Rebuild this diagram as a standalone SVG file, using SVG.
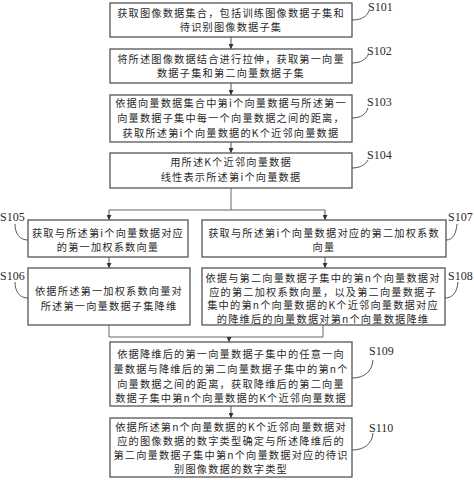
<svg xmlns="http://www.w3.org/2000/svg" width="474" height="480" viewBox="0 0 474 480">
<defs>
<marker id="ah" viewBox="0 0 6 6" refX="6" refY="3" markerWidth="5" markerHeight="5" orient="auto" markerUnits="userSpaceOnUse">
<path d="M0,0 L6,3 L0,6 z" fill="#333"/>
</marker>
<style>
.box{fill:#fff;stroke:#555;stroke-width:1.3}
.t{font-family:"Noto Sans CJK SC","Noto Sans CJK JP",sans-serif;font-size:10.2px;letter-spacing:1.2px;fill:#2a2a2a;text-anchor:middle}
.lb{font-family:"Liberation Serif",serif;font-size:12px;fill:#2a2a2a}
.c{fill:none;stroke:#555;stroke-width:1}
.ln{fill:none;stroke:#666;stroke-width:1}
.ar{fill:none;stroke:#555;stroke-width:1;marker-end:url(#ah)}
</style>
</defs>
<rect width="474" height="480" fill="#fff"/>
<g id="connectors">
<path class="ar" d="M231,37 V49"/>
<path class="ar" d="M231,83 V95"/>
<path class="ar" d="M231,142 V153"/>
<path class="ln" d="M231,188 V210 M109,210 H325"/>
<path class="ar" d="M109,210 V220"/>
<path class="ar" d="M325,210 V220"/>
<path class="ar" d="M109,257 V268"/>
<path class="ar" d="M325,257 V268"/>
<path class="ln" d="M109,325 V337 H323 V325"/>
<path class="ar" d="M229,337 V342"/>
<path class="ar" d="M231,406 V418"/>
</g>
<g id="S101">
<rect class="box" x="110" y="3" width="242" height="34"/>
<text class="t" x="231" y="17">获取图像数据集合，包括训练图像数据子集和</text>
<text class="t" x="231" y="31">待识别图像数据子集</text>
<path class="c" d="M352,20 C362,20 367,16 369,11"/>
<text class="lb" x="368" y="11">S101</text>
</g>
<g id="S102">
<rect class="box" x="110" y="49" width="242" height="34"/>
<text class="t" x="231" y="63">将所述图像数据结合进行拉伸，获取第一向量</text>
<text class="t" x="231" y="77">数据子集和第二向量数据子集</text>
<path class="c" d="M352,63 C361,63 366,59 368,55"/>
<text class="lb" x="367" y="55">S102</text>
</g>
<g id="S103">
<rect class="box" x="110" y="95" width="242" height="47"/>
<text class="t" x="231" y="107">依据向量数据集合中第i个向量数据与所述第一</text>
<text class="t" x="231" y="122">向量数据子集中每一个向量数据之间的距离，</text>
<text class="t" x="231" y="137">获取所述第i个向量数据的K个近邻向量数据</text>
<path class="c" d="M352,118 C361,118 366,114 368,108"/>
<text class="lb" x="367" y="106">S103</text>
</g>
<g id="S104">
<rect class="box" x="110" y="153" width="242" height="35"/>
<text class="t" x="231" y="166">用所述K个近邻向量数据</text>
<text class="t" x="231" y="181">线性表示所述第i个向量数据</text>
<path class="c" d="M352,168 C361,168 366,164 368,160"/>
<text class="lb" x="367" y="159">S104</text>
</g>
<g id="S105">
<rect class="box" x="28" y="220" width="160" height="37"/>
<text class="t" x="108" y="237">获取与所述第i个向量数据对应</text>
<text class="t" x="108" y="251">的第一加权系数向量</text>
<path class="c" d="M28,240 C20,240 15,234 15,224"/>
<text class="lb" x="0" y="221">S105</text>
</g>
<g id="S107">
<rect class="box" x="202" y="220" width="244" height="37"/>
<text class="t" x="324" y="237">获取与所述第i个向量数据对应的第二加权系数</text>
<text class="t" x="324" y="251">向量</text>
<path class="c" d="M446,240 C453,240 456,234 457,224"/>
<text class="lb" x="448" y="221">S107</text>
</g>
<g id="S106">
<rect class="box" x="28" y="268" width="162" height="57"/>
<text class="t" x="109" y="295">依据所述第一加权系数向量对</text>
<text class="t" x="109" y="310">所述第一向量数据子集降维</text>
<path class="c" d="M28,298 C20,298 15,292 15,282"/>
<text class="lb" x="0" y="280">S106</text>
</g>
<g id="S108">
<rect class="box" x="202" y="268" width="243" height="57"/>
<text class="t" x="323" y="282">依据与第二向量数据子集中的第n个向量数据对</text>
<text class="t" x="323" y="295.5">应的第二加权系数向量，以及第二向量数据子</text>
<text class="t" x="323" y="309">集中的第n个向量数据的K个近邻向量数据对应</text>
<text class="t" x="323" y="322.5">的降维后的向量数据对第n个向量数据降维</text>
<path class="c" d="M445,298 C453,298 457,292 458,282"/>
<text class="lb" x="448" y="280">S108</text>
</g>
<g id="S109">
<rect class="box" x="110" y="342" width="242" height="64"/>
<text class="t" x="231" y="358">依据降维后的第一向量数据子集中的任意一向</text>
<text class="t" x="231" y="373">量数据与降维后的第二向量数据子集中的第n个</text>
<text class="t" x="231" y="388">向量数据之间的距离，获取降维后的第二向量</text>
<text class="t" x="231" y="402">数据子集中第n个向量数据的K个近邻向量数据</text>
<path class="c" d="M352,378 C364,378 372,372 373,360"/>
<text class="lb" x="369" y="355">S109</text>
</g>
<g id="S110">
<rect class="box" x="110" y="418" width="242" height="59"/>
<text class="t" x="231" y="431">依据所述第n个向量数据的K个近邻向量数据对</text>
<text class="t" x="231" y="445">应的图像数据的数字类型确定与所述降维后的</text>
<text class="t" x="231" y="459">第二向量数据子集中第n个向量数据对应的待识</text>
<text class="t" x="231" y="473">别图像数据的数字类型</text>
<path class="c" d="M352,450 C364,450 372,444 373,433"/>
<text class="lb" x="369" y="432">S110</text>
</g>
</svg>
